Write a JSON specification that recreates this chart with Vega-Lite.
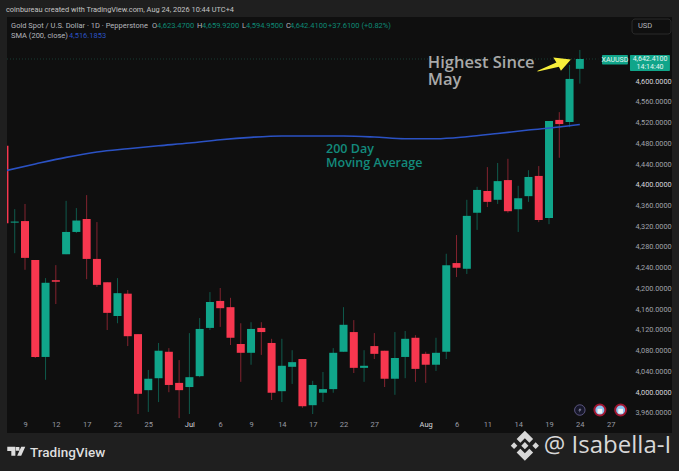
{
  "$schema": "https://vega.github.io/schema/vega-lite/v6.json",
  "width": 665,
  "height": 416,
  "padding": {"left": 7, "top": 17, "right": 7, "bottom": 38},
  "autosize": "none",
  "background": "#1f1f1f",
  "view": {"fill": "#0f0f0f", "stroke": null},
  "config": {"font": "Roboto"},
  "datasets": {
    "candles": [
      {"date": "Jun 5", "bar": -2, "open": 4475, "high": 4475, "low": 4326, "close": 4326, "direction": "down"},
      {"date": "Jun 8", "bar": -1, "open": 4327, "high": 4353, "low": 4268, "close": 4329, "direction": "up"},
      {"date": "Jun 9", "bar": 0, "open": 4330, "high": 4363, "low": 4236, "close": 4259, "direction": "down"},
      {"date": "Jun 10", "bar": 1, "open": 4255, "high": 4255, "low": 4066, "close": 4068, "direction": "down"},
      {"date": "Jun 11", "bar": 2, "open": 4068, "high": 4220, "low": 4024, "close": 4211, "direction": "up"},
      {"date": "Jun 12", "bar": 3, "open": 4216, "high": 4245, "low": 4170, "close": 4213, "direction": "down"},
      {"date": "Jun 15", "bar": 4, "open": 4266, "high": 4369, "low": 4266, "close": 4309, "direction": "up"},
      {"date": "Jun 16", "bar": 5, "open": 4309, "high": 4355, "low": 4307, "close": 4331, "direction": "up"},
      {"date": "Jun 17", "bar": 6, "open": 4334, "high": 4380, "low": 4218, "close": 4257, "direction": "down"},
      {"date": "Jun 18", "bar": 7, "open": 4257, "high": 4328, "low": 4203, "close": 4207, "direction": "down"},
      {"date": "Jun 19", "bar": 8, "open": 4212, "high": 4212, "low": 4120, "close": 4153, "direction": "down"},
      {"date": "Jun 22", "bar": 9, "open": 4147, "high": 4220, "low": 4133, "close": 4191, "direction": "up"},
      {"date": "Jun 23", "bar": 10, "open": 4190, "high": 4197, "low": 4089, "close": 4108, "direction": "down"},
      {"date": "Jun 24", "bar": 11, "open": 4112, "high": 4112, "low": 3958, "close": 3997, "direction": "down"},
      {"date": "Jun 25", "bar": 12, "open": 4004, "high": 4043, "low": 3962, "close": 4026, "direction": "up"},
      {"date": "Jun 26", "bar": 13, "open": 4027, "high": 4095, "low": 3981, "close": 4080, "direction": "up"},
      {"date": "Jun 29", "bar": 14, "open": 4078, "high": 4085, "low": 4000, "close": 4014, "direction": "down"},
      {"date": "Jun 30", "bar": 15, "open": 4018, "high": 4062, "low": 3950, "close": 4004, "direction": "down"},
      {"date": "Jul 1", "bar": 16, "open": 4010, "high": 4114, "low": 3958, "close": 4029, "direction": "up"},
      {"date": "Jul 2", "bar": 17, "open": 4031, "high": 4143, "low": 4029, "close": 4122, "direction": "up"},
      {"date": "Jul 3", "bar": 18, "open": 4124, "high": 4193, "low": 4120, "close": 4174, "direction": "up"},
      {"date": "Jul 6", "bar": 19, "open": 4176, "high": 4201, "low": 4126, "close": 4162, "direction": "down"},
      {"date": "Jul 7", "bar": 20, "open": 4164, "high": 4182, "low": 4091, "close": 4105, "direction": "down"},
      {"date": "Jul 8", "bar": 21, "open": 4093, "high": 4133, "low": 4020, "close": 4076, "direction": "down"},
      {"date": "Jul 9", "bar": 22, "open": 4076, "high": 4135, "low": 4053, "close": 4122, "direction": "up"},
      {"date": "Jul 10", "bar": 23, "open": 4124, "high": 4135, "low": 4072, "close": 4116, "direction": "down"},
      {"date": "Jul 13", "bar": 24, "open": 4095, "high": 4103, "low": 3985, "close": 3999, "direction": "down"},
      {"date": "Jul 14", "bar": 25, "open": 4002, "high": 4103, "low": 3981, "close": 4051, "direction": "up"},
      {"date": "Jul 15", "bar": 26, "open": 4049, "high": 4081, "low": 4016, "close": 4058, "direction": "up"},
      {"date": "Jul 16", "bar": 27, "open": 4064, "high": 4064, "low": 3970, "close": 3973, "direction": "down"},
      {"date": "Jul 17", "bar": 28, "open": 3975, "high": 4022, "low": 3958, "close": 4014, "direction": "up"},
      {"date": "Jul 20", "bar": 29, "open": 3999, "high": 4039, "low": 3981, "close": 4006, "direction": "up"},
      {"date": "Jul 21", "bar": 30, "open": 4006, "high": 4085, "low": 3999, "close": 4076, "direction": "up"},
      {"date": "Jul 22", "bar": 31, "open": 4078, "high": 4164, "low": 4078, "close": 4130, "direction": "up"},
      {"date": "Jul 23", "bar": 32, "open": 4116, "high": 4139, "low": 4037, "close": 4047, "direction": "down"},
      {"date": "Jul 24", "bar": 33, "open": 4047, "high": 4081, "low": 4020, "close": 4051, "direction": "up"},
      {"date": "Jul 27", "bar": 34, "open": 4089, "high": 4114, "low": 4064, "close": 4074, "direction": "down"},
      {"date": "Jul 28", "bar": 35, "open": 4080, "high": 4080, "low": 4010, "close": 4026, "direction": "down"},
      {"date": "Jul 29", "bar": 36, "open": 4026, "high": 4116, "low": 3995, "close": 4066, "direction": "up"},
      {"date": "Jul 30", "bar": 37, "open": 4068, "high": 4118, "low": 4027, "close": 4103, "direction": "up"},
      {"date": "Jul 31", "bar": 38, "open": 4105, "high": 4110, "low": 4020, "close": 4045, "direction": "down"},
      {"date": "Aug 3", "bar": 39, "open": 4074, "high": 4078, "low": 4018, "close": 4053, "direction": "down"},
      {"date": "Aug 4", "bar": 40, "open": 4053, "high": 4105, "low": 4041, "close": 4076, "direction": "up"},
      {"date": "Aug 5", "bar": 41, "open": 4078, "high": 4267, "low": 4064, "close": 4245, "direction": "up"},
      {"date": "Aug 6", "bar": 42, "open": 4249, "high": 4303, "low": 4222, "close": 4240, "direction": "down"},
      {"date": "Aug 7", "bar": 43, "open": 4238, "high": 4371, "low": 4228, "close": 4340, "direction": "up"},
      {"date": "Aug 10", "bar": 44, "open": 4346, "high": 4396, "low": 4313, "close": 4390, "direction": "up"},
      {"date": "Aug 11", "bar": 45, "open": 4388, "high": 4434, "low": 4357, "close": 4367, "direction": "down"},
      {"date": "Aug 12", "bar": 46, "open": 4371, "high": 4442, "low": 4363, "close": 4407, "direction": "up"},
      {"date": "Aug 13", "bar": 47, "open": 4409, "high": 4450, "low": 4346, "close": 4349, "direction": "down"},
      {"date": "Aug 14", "bar": 48, "open": 4353, "high": 4398, "low": 4309, "close": 4374, "direction": "up"},
      {"date": "Aug 17", "bar": 49, "open": 4378, "high": 4428, "low": 4367, "close": 4415, "direction": "up"},
      {"date": "Aug 18", "bar": 50, "open": 4417, "high": 4436, "low": 4328, "close": 4332, "direction": "down"},
      {"date": "Aug 19", "bar": 51, "open": 4336, "high": 4523, "low": 4324, "close": 4523, "direction": "up"},
      {"date": "Aug 20", "bar": 52, "open": 4525, "high": 4540, "low": 4452, "close": 4517, "direction": "down"},
      {"date": "Aug 21", "bar": 53, "open": 4521, "high": 4631, "low": 4511, "close": 4604, "direction": "up"},
      {"date": "Aug 24", "bar": 54, "open": 4623.47, "high": 4659.92, "low": 4594.95, "close": 4642.41, "direction": "up"}
    ],
    "sma": [
      {"bar": -2, "price": 4426.5},
      {"bar": 1, "price": 4440},
      {"bar": 4, "price": 4452.8},
      {"bar": 7, "price": 4463.1},
      {"bar": 10, "price": 4469.5},
      {"bar": 13, "price": 4475.2},
      {"bar": 16, "price": 4480.4},
      {"bar": 19, "price": 4486.8},
      {"bar": 22, "price": 4491.4},
      {"bar": 25, "price": 4493.9},
      {"bar": 28, "price": 4493.9},
      {"bar": 31, "price": 4493.9},
      {"bar": 34, "price": 4492},
      {"bar": 37, "price": 4488.7},
      {"bar": 40, "price": 4488.7},
      {"bar": 43, "price": 4492.6},
      {"bar": 46, "price": 4498.8},
      {"bar": 49, "price": 4505.5},
      {"bar": 52, "price": 4511.3},
      {"bar": 54, "price": 4516.19}
    ]
  },
  "encoding": {
    "x": {
      "field": "bar",
      "type": "quantitative",
      "title": null,
      "scale": {"domain": [-1.752, 62.97], "nice": false, "zero": false, "padding": 0},
      "axis": {
        "values": [0, 3, 6, 9, 12, 16, 19, 22, 25, 28, 31, 34, 39, 42, 45, 48, 51, 54, 57],
        "labelExpr": "{'0':'9','3':'12','6':'17','9':'22','12':'25','16':'Jul','19':'6','22':'9','25':'14','28':'17','31':'22','34':'27','39':'Aug','42':'6','45':'11','48':'14','51':'19','54':'24','57':'27'}[datum.value]",
        "offset": -15,
        "grid": false,
        "domain": false,
        "ticks": false,
        "labelPadding": 2,
        "labelFontSize": 7.5,
        "labelColor": {"expr": "datum.value == 16 || datum.value == 39 ? '#d6d8de' : '#9a9ca5'"},
        "labelFlush": false,
        "labelOverlap": false
      }
    },
    "y": {
      "field": "price",
      "type": "quantitative",
      "title": null,
      "scale": {"domain": [3921.4, 4723.4], "nice": false, "zero": false},
      "axis": {
        "orient": "right",
        "values": [3960, 4000, 4040, 4080, 4120, 4160, 4200, 4240, 4280, 4320, 4360, 4400, 4440, 4480, 4520, 4560, 4600],
        "format": ",.4f",
        "offset": -37,
        "grid": false,
        "domain": false,
        "ticks": false,
        "labelPadding": 0,
        "labelFontSize": 7.3,
        "labelColor": {"expr": "datum.value == 4600 || datum.value == 4400 || datum.value == 4000 ? '#d6d8de' : '#a0a3ab'"},
        "labelOverlap": false
      }
    }
  },
  "layer": [
    {
      "data": {"values": [{"bar": -1.75, "bar2": 55.8, "price": 4642.41}]},
      "mark": {"type": "rule", "color": "#1a3d35", "strokeWidth": 1, "strokeDash": [1, 2]},
      "encoding": {"x2": {"field": "bar2"}}
    },
    {
      "data": {"name": "candles"},
      "mark": {"type": "rule", "strokeWidth": 1, "opacity": 0.5, "clip": true},
      "encoding": {
        "y": {"field": "low", "type": "quantitative", "title": null},
        "y2": {"field": "high"},
        "color": {"field": "direction", "type": "nominal", "legend": null, "scale": {"domain": ["up", "down"], "range": ["#10a58a", "#f7374f"]}}
      }
    },
    {
      "data": {"name": "candles"},
      "mark": {"type": "bar", "size": 8, "clip": true},
      "encoding": {
        "y": {"field": "open", "type": "quantitative", "title": null},
        "y2": {"field": "close"},
        "color": {"field": "direction", "type": "nominal", "legend": null, "scale": {"domain": ["up", "down"], "range": ["#10a58a", "#f7374f"]}}
      }
    },
    {
      "data": {"name": "sma"},
      "mark": {"type": "line", "color": "#2b52c4", "strokeWidth": 1.6, "interpolate": "monotone", "clip": true},
      "encoding": {}
    },
    {
      "data": {"values": [
        {"bar": 56.16, "bar2": 58.68, "price": 4650, "price2": 4632},
        {"bar": 58.88, "bar2": 62.77, "price": 4650, "price2": 4619.2}
      ]},
      "mark": {"type": "rect", "color": "#10a58a", "cornerRadius": 1},
      "encoding": {"x2": {"field": "bar2"}, "y2": {"field": "price2"}}
    },
    {
      "data": {"values": [{"bar": 59.08, "bar2": 62.87, "price": 4719.5, "price2": 4690.6}]},
      "mark": {"type": "rect", "fill": "#0f0f0f", "stroke": "#2b2b2b", "strokeWidth": 1, "cornerRadius": 3},
      "encoding": {"x2": {"field": "bar2"}, "y2": {"field": "price2"}}
    },
    {
      "data": {"values": [
        {"bar": -1.85, "price": 4737.8, "note": "coinbureau created with TradingView.com, Aug 24, 2026 10:44 UTC+4"}
      ]},
      "mark": {"type": "text", "align": "left", "baseline": "middle", "fontSize": 7.4, "color": "#c4c4c4"},
      "encoding": {"text": {"field": "note"}}
    },
    {
      "data": {"values": [
        {"bar": -1.36, "price": 4706, "note": "Gold Spot / U.S. Dollar · 1D · Pepperstone"},
        {"bar": -1.36, "price": 4686.7, "note": "SMA (200, close)"},
        {"bar": 12.36, "price": 4706, "note": "O"},
        {"bar": 16.74, "price": 4706, "note": "H"},
        {"bar": 21.12, "price": 4706, "note": "L"},
        {"bar": 25.4, "price": 4706, "note": "C"},
        {"bar": 59.66, "price": 4706, "note": "USD"}
      ]},
      "mark": {"type": "text", "align": "left", "baseline": "middle", "fontSize": 7.5, "color": "#b4b6bc"},
      "encoding": {"text": {"field": "note"}}
    },
    {
      "data": {"values": [
        {"bar": 12.85, "price": 4706, "note": "4,623.4700"},
        {"bar": 17.23, "price": 4706, "note": "4,659.9200"},
        {"bar": 21.51, "price": 4706, "note": "4,594.9500"},
        {"bar": 25.79, "price": 4706, "note": "4,642.4100"},
        {"bar": 29.49, "price": 4706, "note": "+37.6100 (+0.82%)"}
      ]},
      "mark": {"type": "text", "align": "left", "baseline": "middle", "fontSize": 7.5, "color": "#0e8a75"},
      "encoding": {"text": {"field": "note"}}
    },
    {
      "data": {"values": [{"bar": 4.28, "price": 4686.7, "note": "4,516.1853"}]},
      "mark": {"type": "text", "align": "left", "baseline": "middle", "fontSize": 7.5, "color": "#2b52c4"},
      "encoding": {"text": {"field": "note"}}
    },
    {
      "data": {"values": [
        {"bar": 57.42, "price": 4641.4, "note": "XAUUSD"},
        {"bar": 60.83, "price": 4642.4, "note": "4,642.4100"},
        {"bar": 60.83, "price": 4626.9, "note": "14:14:40"}
      ]},
      "mark": {"type": "text", "align": "center", "baseline": "middle", "fontSize": 7, "color": "#e6f5f1"},
      "encoding": {"text": {"field": "note"}}
    },
    {
      "data": {"values": [{"bar": 39.2, "price": 4634.7, "note": "Highest Since\nMay"}]},
      "mark": {"type": "text", "align": "left", "baseline": "middle", "lineBreak": "\n", "lineHeight": 17.4, "fontSize": 16.5, "fontWeight": 600, "font": "Open Sans", "color": "#a9a9a9"},
      "encoding": {"text": {"field": "note"}}
    },
    {
      "data": {"values": [{"bar": 29.3, "price": 4469, "note": "200 Day\nMoving Average"}]},
      "mark": {"type": "text", "align": "left", "baseline": "middle", "lineBreak": "\n", "lineHeight": 14, "fontSize": 12.5, "fontWeight": 600, "font": "Open Sans", "color": "#138a7c"},
      "encoding": {"text": {"field": "note"}}
    },
    {
      "data": {"values": [
        {"bar": 49.9, "price": 4619, "width": 0.6},
        {"bar": 51.9, "price": 4632, "width": 5}
      ]},
      "mark": {"type": "trail", "color": "#f7ee3a"},
      "encoding": {"size": {"field": "width", "type": "quantitative", "legend": null, "scale": {"domain": [0, 5], "range": [0, 5]}}}
    },
    {
      "data": {"values": [{"bar": 52.25, "price": 4634.7, "note": "arrow head"}]},
      "mark": {"type": "point", "shape": "M-0.95,-0.6 L1,-0.4 L-0.1,0.85 L-0.45,0.2 Z", "size": 324, "filled": true, "opacity": 1, "color": "#f7ee3a"}
    },
    {
      "data": {"values": [{"bar": 54, "price": 3965.7}]},
      "mark": {"type": "point", "filled": true, "opacity": 1, "size": 110, "fill": "#17172a", "stroke": "#5a5580", "strokeWidth": 1}
    },
    {
      "data": {"values": [{"bar": 54, "price": 3965.7}]},
      "mark": {"type": "point", "shape": "M0.3,-1 L-0.6,0.2 L-0.05,0.2 L-0.3,1 L0.6,-0.25 L0.05,-0.25 Z", "filled": true, "opacity": 1, "size": 28, "color": "#8a8aa0"}
    },
    {
      "data": {"values": [{"bar": 55.95, "price": 3965.7}, {"bar": 57.97, "price": 3965.7}]},
      "mark": {"type": "point", "filled": true, "opacity": 1, "size": 120, "fill": "#8cc3f0", "stroke": "#a01530", "strokeWidth": 2}
    },
    {
      "data": {"values": [{"bar": 55.95, "price": 3963.5}, {"bar": 57.97, "price": 3963.5}]},
      "mark": {"type": "point", "shape": "square", "filled": true, "opacity": 1, "size": 22, "color": "#f2f2f2"}
    },
    {
      "data": {"values": [{"bar": -0.85, "price": 3886, "note": "TradingView logo"}]},
      "mark": {"type": "point", "shape": "M-1,-0.5 H-0.1 V0.5 H-0.55 V-0.05 H-1 Z M-0.05,-0.48 H0.35 V-0.08 H-0.05 Z M0.55,-0.5 H1 L0.55,0.5 H0.1 Z", "size": 324, "filled": true, "opacity": 1, "color": "#dedede"}
    },
    {
      "data": {"values": [{"bar": 0.49, "price": 3882.8, "note": "TradingView"}]},
      "mark": {"type": "text", "align": "left", "baseline": "middle", "fontSize": 13.5, "fontWeight": 500, "color": "#dedede"},
      "encoding": {"text": {"field": "note"}}
    },
    {
      "data": {"values": [{"bar": 48.65, "price": 3897, "note": "Binance logo"}]},
      "mark": {"type": "point", "shape": "M0,-0.24 L0.24,0 L0,0.24 L-0.24,0 Z M-0.72,-0.22 L-0.5,0 L-0.72,0.22 L-0.94,0 Z M0.72,-0.22 L0.94,0 L0.72,0.22 L0.5,0 Z M0,-1 L0.55,-0.45 L0.3,-0.2 L0,-0.5 L-0.3,-0.2 L-0.55,-0.45 Z M0,1 L0.55,0.45 L0.3,0.2 L0,0.5 L-0.3,0.2 L-0.55,0.45 Z", "size": 900, "filled": true, "opacity": 1, "color": "#d8d8d8"}
    },
    {
      "data": {"values": [{"bar": 50.5, "price": 3896, "note": "@ Isabella-I"}]},
      "mark": {"type": "text", "align": "left", "baseline": "middle", "fontSize": 24, "font": "Open Sans", "color": "#d8d8d8"},
      "encoding": {"text": {"field": "note"}}
    }
  ]
}
